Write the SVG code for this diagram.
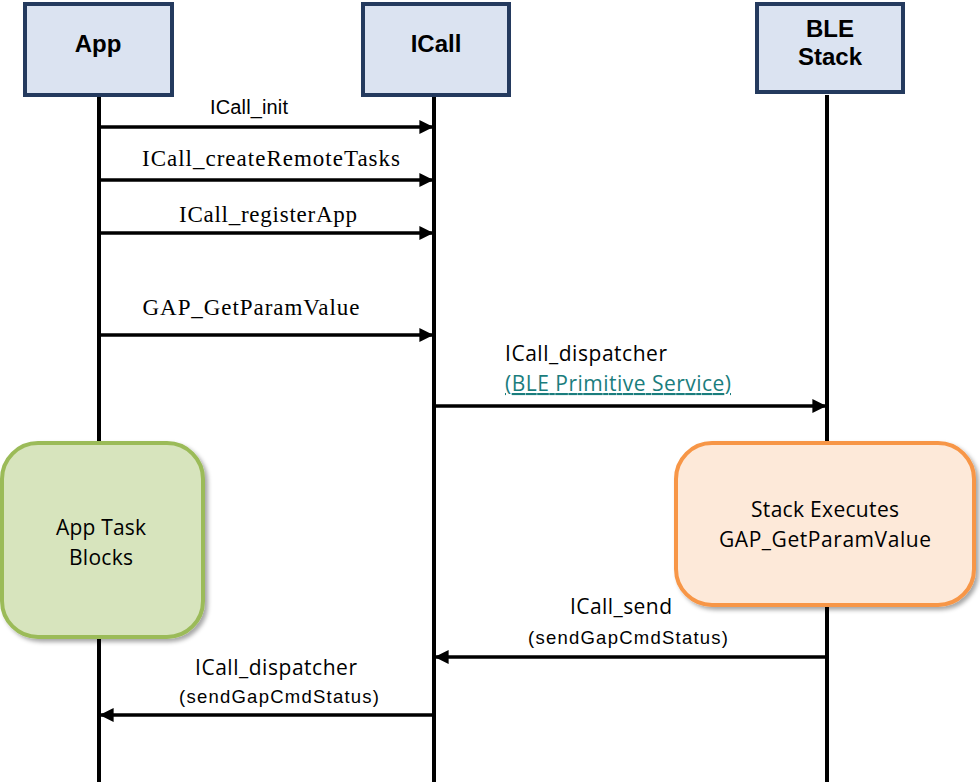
<svg xmlns="http://www.w3.org/2000/svg" width="980" height="782" viewBox="0 0 980 782">
<style>
.hdr{fill:#dbe3f1;stroke:#243a5e;stroke-width:4}
.ht{font-family:"Liberation Sans",Arial,sans-serif;font-weight:bold;font-size:24px;text-anchor:middle;fill:#000}
.life{stroke:#000;stroke-width:4}
.msg{stroke:#000;stroke-width:3.5;fill:none}
.sans{font-family:"Liberation Sans",Arial,sans-serif;font-size:20px;text-anchor:middle}
.small{font-size:18.5px}
.serif{font-family:"Liberation Serif","Times New Roman",serif;font-size:23px;text-anchor:middle}
.cal{font-family:"Open Sans","Noto Sans",sans-serif;font-size:21px;text-anchor:middle}
</style>
<defs>
<marker id="ah" viewBox="0 0 10 10" refX="9" refY="5" markerWidth="4" markerHeight="4" orient="auto" markerUnits="strokeWidth"><path d="M0,0L10,5L0,10z" fill="#000"/></marker>
<filter id="sh" x="-10%" y="-10%" width="130%" height="130%"><feDropShadow dx="3" dy="3" stdDeviation="2" flood-opacity="0.35"/></filter>
</defs>
<rect width="980" height="782" fill="#fff"/>
<g id="lifelines">
<line class="life" x1="99" y1="95" x2="99" y2="782"/>
<line class="life" x1="434" y1="95" x2="434" y2="782"/>
<line class="life" x1="827" y1="95" x2="827" y2="782"/>
</g>
<g id="app"><rect class="hdr" x="25" y="4" width="147" height="91"/><text class="ht" x="98" y="52">App</text></g>
<g id="icall"><rect class="hdr" x="363" y="4" width="146" height="91"/><text class="ht" x="436" y="52">ICall</text></g>
<g id="ble"><rect class="hdr" x="757" y="4" width="146" height="88"/><text class="ht" x="830" y="37">BLE</text><text class="ht" x="830" y="65">Stack</text></g>
<g id="appblocks"><rect x="2" y="443" width="201" height="194" rx="36" fill="#d7e4bd" stroke="#9bbb59" stroke-width="4" filter="url(#sh)"/><text class="cal" x="101" y="535" textLength="90">App Task</text><text class="cal" x="101" y="565" textLength="64">Blocks</text></g>
<g id="stackexec"><rect x="676" y="443" width="298" height="162" rx="36" fill="#fde9d9" stroke="#f79646" stroke-width="4" filter="url(#sh)"/><text class="cal" x="825" y="517" textLength="148">Stack Executes</text><text class="cal" x="825" y="547" textLength="212">GAP_GetParamValue</text></g>
<g id="connectors">
<line class="msg" x1="99" y1="127" x2="432" y2="127" marker-end="url(#ah)"/>
<line class="msg" x1="99" y1="180" x2="432" y2="180" marker-end="url(#ah)"/>
<line class="msg" x1="99" y1="233" x2="432" y2="233" marker-end="url(#ah)"/>
<line class="msg" x1="99" y1="335" x2="432" y2="335" marker-end="url(#ah)"/>
<line class="msg" x1="434" y1="406" x2="825" y2="406" marker-end="url(#ah)"/>
<line class="msg" x1="827" y1="657" x2="436" y2="657" marker-end="url(#ah)"/>
<line class="msg" x1="434" y1="715" x2="101" y2="715" marker-end="url(#ah)"/>
<text class="sans" x="249" y="114" textLength="78">ICall_init</text>
<text class="serif" x="271" y="166" textLength="258">ICall_createRemoteTasks</text>
<text class="serif" x="268" y="222" textLength="178">ICall_registerApp</text>
<text class="serif" x="251" y="315" textLength="217">GAP_GetParamValue</text>
<text class="cal" x="586" y="361" textLength="162">ICall_dispatcher</text>
<text class="cal" x="618" y="391" fill="#1a7d7d" text-decoration="underline" textLength="226">(BLE Primitive Service)</text>
<text class="cal" x="621" y="614" textLength="102">ICall_send</text>
<text class="sans small" x="628" y="644" textLength="200">(sendGapCmdStatus)</text>
<text class="cal" x="276" y="675" textLength="162">ICall_dispatcher</text>
<text class="sans small" x="279" y="703" textLength="200">(sendGapCmdStatus)</text>
</g>
</svg>
